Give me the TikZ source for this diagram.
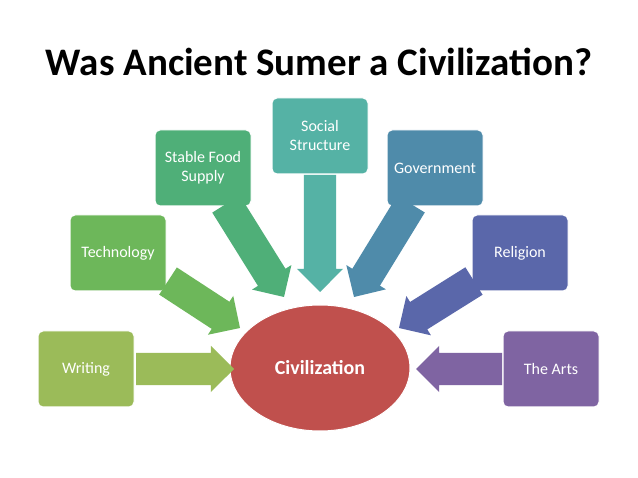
\documentclass[tikz,border=0pt]{standalone}
\usepackage{fontspec}
\setmainfont{Carlito}
\usetikzlibrary{shapes.arrows,shapes.geometric,calc}
\definecolor{cW}{HTML}{9BBB59}
\definecolor{cT}{HTML}{6DB75A}
\definecolor{cS}{HTML}{4FAF78}
\definecolor{cSo}{HTML}{55B2A5}
\definecolor{cG}{HTML}{4F8BAA}
\definecolor{cR}{HTML}{5A67AA}
\definecolor{cA}{HTML}{7F64A2}
\definecolor{cC}{HTML}{C0504D}
\tikzset{
 box/.style={draw=white,line width=1pt,rounded corners=5pt,minimum width=96pt,minimum height=76pt,text=white,font=\fontsize{16}{19}\selectfont,align=center},
 barrow/.style={single arrow,inner xsep=0pt,inner ysep=16pt,single arrow head extend=7pt,draw=none,outer sep=0pt}
}
\newcommand{\blockarrow}[4]{%
 \path let \p1=(#1),\p2=(#2),\n1={atan2(\y2-\y1,\x2-\x1)},\n2={veclen(\x2-\x1,\y2-\y1)} in
 node[barrow,fill=#3,minimum height=\n2,rotate=\n1,anchor=tip] (#4) at (#2) {};}
\begin{document}
\begin{tikzpicture}[x=1pt,y=-1pt]
\useasboundingbox[fill=white] (0,0) rectangle (638,478);
\node[font=\fontsize{39}{44}\selectfont\bfseries] (title) at (319,62) {Was Ancient Sumer a Civilization?};
\node[ellipse,fill=cC,draw=white,line width=1pt,minimum width=180pt,minimum height=126pt,text=white,font=\fontsize{20}{24}\selectfont\bfseries] (civ) at (320,368) {Civilization};
\node[box,fill=cW] (w) at (86,369) {Writing};
\node[box,fill=cT] (t) at (118,253) {Technology};
\node[box,fill=cS] (s) at (203,168) {Stable Food\\Supply};
\node[box,fill=cSo] (so) at (320,136) {Social\\Structure};
\node[box,fill=cG] (g) at (435,168) {Government};
\node[box,fill=cR] (r) at (520,253) {Religion};
\node[box,fill=cA] (a) at (551,369) {The Arts};
\coordinate (w1) at (136,369); \coordinate (w2) at (234,369);
\coordinate (t1) at (168,281); \coordinate (t2) at (240,328);
\coordinate (s1) at (226,204); \coordinate (s2) at (284,297);
\coordinate (so1) at (320,175); \coordinate (so2) at (320,292);
\coordinate (g1) at (411,204); \coordinate (g2) at (354,297);
\coordinate (r1) at (474,281); \coordinate (r2) at (399,328);
\coordinate (a1) at (502,369); \coordinate (a2) at (416,369);
\blockarrow{w1}{w2}{cW}{aw}
\blockarrow{t1}{t2}{cT}{at}
\blockarrow{s1}{s2}{cS}{as}
\blockarrow{so1}{so2}{cSo}{aso}
\blockarrow{g1}{g2}{cG}{ag}
\blockarrow{r1}{r2}{cR}{ar}
\blockarrow{a1}{a2}{cA}{aa}
\end{tikzpicture}
\end{document}
